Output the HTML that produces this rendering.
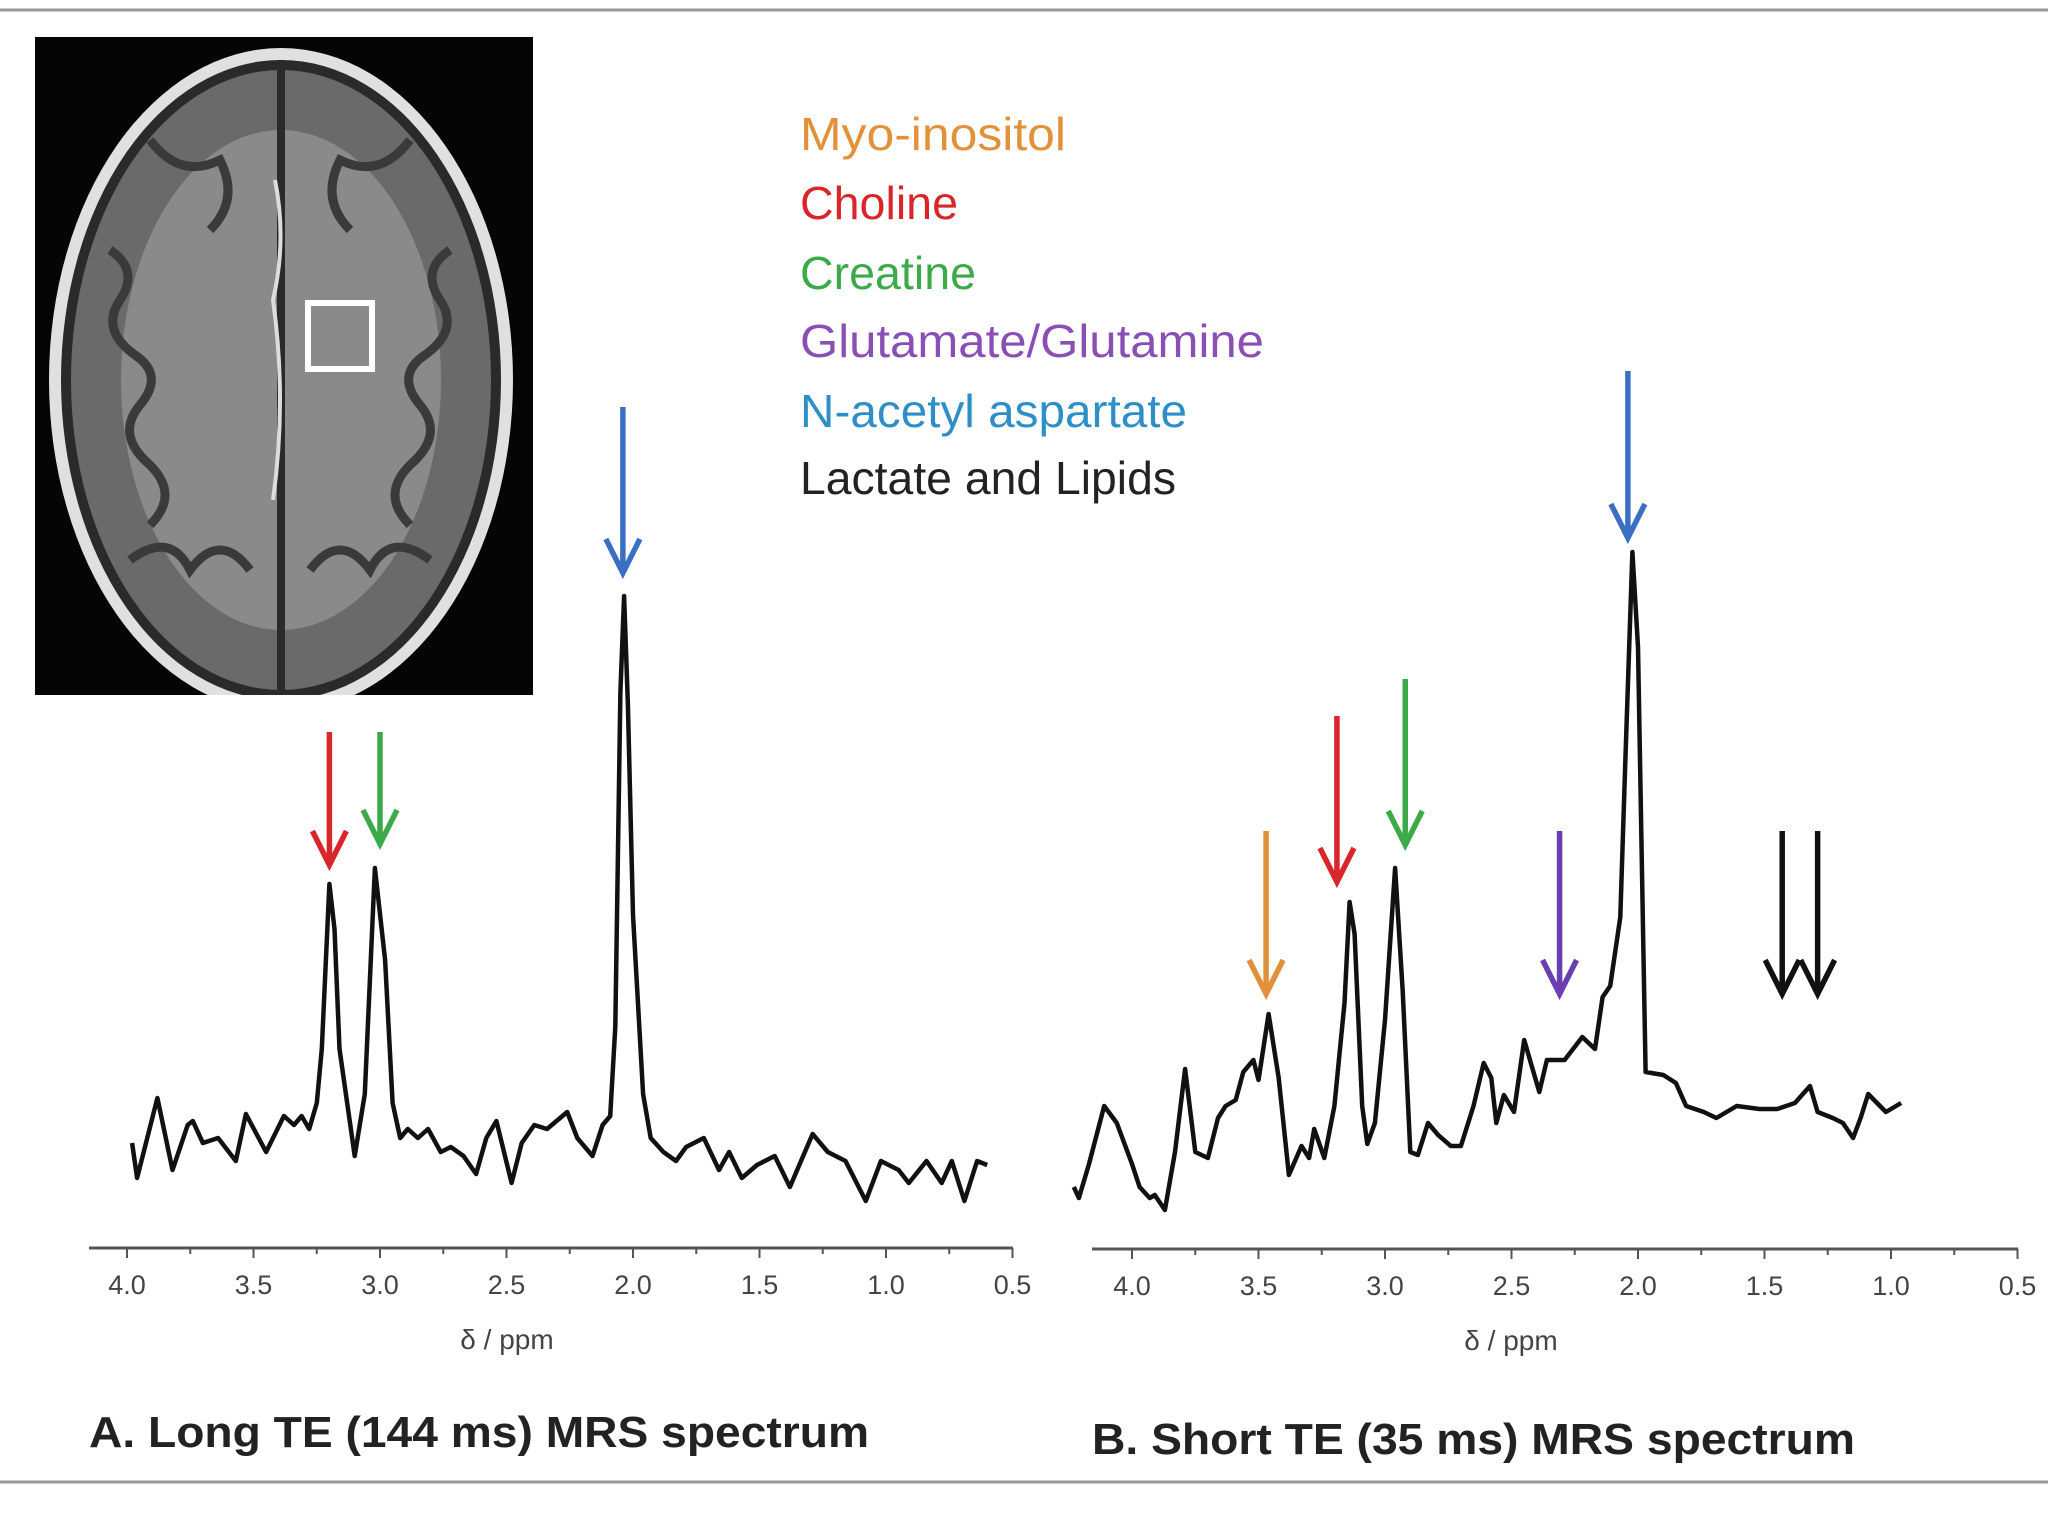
<!DOCTYPE html>
<html><head><meta charset="utf-8">
<style>
html,body{margin:0;padding:0;background:#fff;}
svg{display:block;font-family:"Liberation Sans Narrow","Liberation Sans",sans-serif;}
</style></head>
<body>
<svg id="fig" width="2048" height="1536" viewBox="0 0 2048 1536" xmlns="http://www.w3.org/2000/svg">
  <rect x="0" y="0" width="2048" height="1536" fill="#fff"/>
  <line x1="0" y1="10" x2="2048" y2="10" stroke="#999" stroke-width="3"/>
  <line x1="0" y1="1482" x2="2048" y2="1482" stroke="#999" stroke-width="3"/>
  <g>
    <clipPath id="bc"><rect x="35" y="37" width="498" height="658"/></clipPath>
    <rect x="35" y="37" width="498" height="658" fill="#050505"/>
    <g clip-path="url(#bc)">
      <ellipse cx="281" cy="380" rx="232" ry="332" fill="#e0e0e0"/>
      <ellipse cx="281" cy="380" rx="220" ry="320" fill="#2a2a2a"/>
      <ellipse cx="281" cy="380" rx="210" ry="310" fill="#6a6a6a"/>
      <ellipse cx="281" cy="380" rx="160" ry="250" fill="#8a8a8a"/>
      <g fill="none" stroke="#3a3a3a" stroke-width="9">
        <path d="M110 250 q30 20 10 50 q-20 30 15 55 q30 20 5 50 q-25 30 10 60 q30 30 0 60"/>
        <path d="M450 250 q-30 20 -10 50 q20 30 -15 55 q-30 20 -5 50 q25 30 -10 60 q-30 30 0 60"/>
        <path d="M150 140 q30 40 70 20 q20 40 -10 70"/>
        <path d="M410 140 q-30 40 -70 20 q-20 40 10 70"/>
        <path d="M130 560 q40 -30 60 10 q30 -40 60 0"/>
        <path d="M430 560 q-40 -30 -60 10 q-30 -40 -60 0"/>
      </g>
      <line x1="281" y1="60" x2="281" y2="700" stroke="#2a2a2a" stroke-width="8"/>
      <path d="M275 180 q12 60 -2 120 q14 100 0 200" fill="none" stroke="#ddd" stroke-width="4"/>
    </g>
    <rect x="308" y="303" width="64" height="66" fill="none" stroke="#fff" stroke-width="6"/>
  </g>
  <g font-family="'Liberation Sans',sans-serif" font-size="46">
    <text x="800" y="150" fill="#e0913a" textLength="266" lengthAdjust="spacingAndGlyphs">Myo-inositol</text>
    <text x="800" y="219" fill="#d9262b" textLength="158" lengthAdjust="spacingAndGlyphs">Choline</text>
    <text x="800" y="289" fill="#3daa4a" textLength="176" lengthAdjust="spacingAndGlyphs">Creatine</text>
    <text x="800" y="357" fill="#8a4fb5" textLength="464" lengthAdjust="spacingAndGlyphs">Glutamate/Glutamine</text>
    <text x="800" y="427" fill="#2e8fc7" textLength="387" lengthAdjust="spacingAndGlyphs">N-acetyl aspartate</text>
    <text x="800" y="494" fill="#222" textLength="376" lengthAdjust="spacingAndGlyphs">Lactate and Lipids</text>
  </g>
  <g id="plots"></g>
</svg>
<script>
// Chart A (long TE) data
const ppmA = [3.98,3.96,3.88,3.82,3.76,3.74,3.70,3.64,3.57,3.53,3.45,3.38,3.34,3.31,3.28,3.25,3.23,3.20,3.18,3.16,3.10,3.06,3.02,2.98,2.95,2.92,2.89,2.85,2.81,2.76,2.72,2.67,2.62,2.58,2.54,2.48,2.44,2.39,2.34,2.26,2.22,2.16,2.12,2.09,2.07,2.05,2.035,2.02,2.00,1.96,1.93,1.88,1.83,1.79,1.72,1.66,1.62,1.57,1.51,1.44,1.38,1.29,1.23,1.16,1.08,1.02,0.95,0.91,0.84,0.78,0.74,0.69,0.64,0.60];
const intA = [105,70,150,78,123,127,105,110,87,134,96,132,123,132,119,145,199,364,319,199,92,154,380,288,145,110,119,110,119,96,101,92,74,110,127,65,105,123,119,136,110,92,123,132,221,556,652,543,333,154,110,96,87,101,110,78,96,70,83,92,61,114,96,87,47,87,78,65,87,65,87,47,87,83];
// Chart B (short TE) data
const ppmB = [4.23,4.21,4.17,4.11,4.06,4.00,3.97,3.93,3.91,3.87,3.83,3.79,3.75,3.70,3.66,3.63,3.59,3.56,3.52,3.50,3.46,3.42,3.38,3.33,3.30,3.28,3.24,3.20,3.16,3.14,3.12,3.09,3.07,3.04,3.00,2.96,2.93,2.90,2.87,2.83,2.79,2.74,2.70,2.65,2.61,2.58,2.56,2.53,2.49,2.45,2.42,2.39,2.36,2.29,2.22,2.17,2.14,2.11,2.07,2.05,2.022,2.00,1.98,1.97,1.90,1.85,1.81,1.74,1.69,1.61,1.52,1.45,1.38,1.32,1.29,1.23,1.19,1.15,1.12,1.09,1.02,0.96];
const intB = [62,51,85,143,126,85,62,51,54,39,97,180,97,91,131,143,149,177,189,169,235,171,74,103,91,120,91,143,246,347,315,143,105,126,229,381,258,97,94,126,114,103,103,143,186,171,126,154,137,209,183,157,189,189,212,200,252,263,332,487,697,602,315,177,174,166,143,137,131,143,140,140,146,163,137,131,126,111,131,155,137,146];
const tickLabels = ["4.0","3.5","3.0","2.5","2.0","1.5","1.0","0.5"];
const tickValues = [4.0,3.5,3.0,2.5,2.0,1.5,1.0,0.5];
// Arrow annotations: ppm, top, tip intensities
const arrowsA_ppm = [3.20, 3.00, 2.04];
const arrowsA_top = [516, 516, 841];
const arrowsA_tip = [383, 404, 675];
const arrowsA_col = ["#d9262b","#3daa4a","#3b6fc4"];
const arrowsB_ppm = [3.47, 3.19, 2.92, 2.31, 2.04, 1.43, 1.29];
const arrowsB_top = [418, 533, 570, 418, 878, 418, 418];
const arrowsB_tip = [255, 367, 404, 255, 711, 255, 255];
const arrowsB_col = ["#e0913a","#d9262b","#3daa4a","#6a3fb0","#3b6fc4","#111","#111"];

const NS = "http://www.w3.org/2000/svg";
const plots = document.getElementById('plots');
function mk(tag, attrs, parent){ const e=document.createElementNS(NS,tag); for(const k in attrs) e.setAttribute(k,attrs[k]); (parent||plots).appendChild(e); return e; }

function drawPanel(id, x0, axisStart, axisEnd, baseY, ppm, ints, aP, aT, aTip, aC, title, titleX, titleY, titleLen, xLabelX){
  const g = mk('g',{});
  
  
  const xs = p => x0 + (4.0 - p) * 253;
  const ys = v => baseY - v;
  const ax = mk('line',{x1:axisStart,y1:baseY,x2:axisEnd,y2:baseY,stroke:'#555','stroke-width':3},g);
  
  
  for(let p=4.0; p>=0.49; p-=0.25){
    mk('line',{x1:xs(p),y1:baseY,x2:xs(p),y2:baseY+(Math.abs(p*2-Math.round(p*2))<0.01?10:6),stroke:'#555','stroke-width':2},g);
  }
  tickValues.forEach((v,i)=>{
    const t = mk('text',{x:xs(v),y:baseY+46,'text-anchor':'middle','font-size':27,fill:'#444'},g);
    t.textContent = tickLabels[i];
    
    
  });
  const xl = mk('text',{x:xLabelX,y:baseY+101,'text-anchor':'middle','font-size':28,fill:'#444'},g);
  xl.textContent = 'δ / ppm';
  
  
  let d='';
  ppm.forEach((p,i)=>{ d += (i?'L':'M') + xs(p).toFixed(1) + ' ' + ys(ints[i]).toFixed(1); });
  const path = mk('path',{d:d,fill:'none',stroke:'#111','stroke-width':4.5,'stroke-linejoin':'round'},g);
  
  
  aP.forEach((p,i)=>{
    const x = xs(p), yt = ys(aT[i]), yb = ys(aTip[i]);
    const a = mk('g',{},g);
    
    
    mk('line',{x1:x,y1:yt,x2:x,y2:yb-4,stroke:aC[i],'stroke-width':5.5},a);
    mk('polyline',{points:(x-17)+','+(yb-34)+' '+x+','+yb+' '+(x+17)+','+(yb-34),fill:'none',stroke:aC[i],'stroke-width':5.5,'stroke-linejoin':'miter'},a);
  });
  const tt = mk('text',{x:titleX,y:titleY,'font-size':44,'font-weight':'bold',fill:'#222',textLength:titleLen,lengthAdjust:'spacingAndGlyphs'},g);
  tt.textContent = title;
  
  
}
drawPanel('panel-a-long-te', 127, 89, 1013, 1248, ppmA, intA, arrowsA_ppm, arrowsA_top, arrowsA_tip, arrowsA_col, 'A. Long TE (144 ms) MRS spectrum', 89, 1447, 780, 507);
drawPanel('panel-b-short-te', 1132, 1092, 2018, 1249, ppmB, intB, arrowsB_ppm, arrowsB_top, arrowsB_tip, arrowsB_col, 'B. Short TE (35 ms) MRS spectrum', 1092, 1454, 763, 1511);
</script>
</body></html>
